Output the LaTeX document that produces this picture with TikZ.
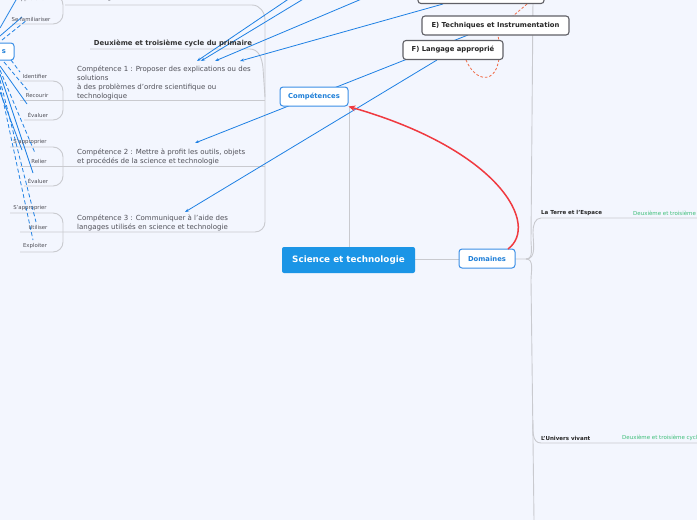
\documentclass[tikz,border=0pt]{standalone}
\usepackage{fontspec}
\setmainfont{DejaVu Sans}
\usetikzlibrary{arrows.meta}
\definecolor{bg}{HTML}{F3F6FE}
\definecolor{sciblue}{HTML}{1B95E6}
\definecolor{linkblue}{HTML}{1E80E4}
\definecolor{nodeblue}{HTML}{3A8EE6}
\definecolor{textblue}{HTML}{1E7FD8}
\definecolor{graylink}{HTML}{C9CACF}
\definecolor{boxgray}{HTML}{606066}
\definecolor{redarrow}{HTML}{F03A40}
\definecolor{dashred}{HTML}{F06A45}
\definecolor{greentxt}{HTML}{3DBE78}
\definecolor{txtgray}{HTML}{505058}
\tikzset{
  scibox/.style={rectangle, rounded corners=2pt, fill=sciblue, text=white, font=\fontsize{8.8}{10}\selectfont\bfseries, minimum width=133pt, minimum height=26pt, inner sep=0pt},
  topicbox/.style={rectangle, rounded corners=3pt, draw=nodeblue, line width=1pt, fill=white, text=textblue, font=\fontsize{6.8}{8}\selectfont\bfseries, minimum height=19pt, inner sep=0pt},
  darkbox/.style={rectangle, rounded corners=3pt, draw=boxgray, line width=1.1pt, fill=white, text=black!85, font=\fontsize{6.8}{8}\selectfont\bfseries, minimum height=19pt, inner sep=0pt},
  bodytext/.style={font=\fontsize{7}{9}\selectfont, text=txtgray, align=left, inner sep=0pt, anchor=north west},
  subitem/.style={font=\fontsize{5.4}{6}\selectfont, text=txtgray, inner sep=0pt},
  headtext/.style={font=\fontsize{6.9}{8}\selectfont\bfseries, text=black!80, inner sep=0pt},
  domitem/.style={font=\fontsize{5.5}{6}\selectfont\bfseries, text=black!85, inner sep=0pt, anchor=west},
  greenlab/.style={font=\fontsize{5.5}{6}\selectfont, text=greentxt, inner sep=0pt, anchor=west},
  glink/.style={draw=graylink, line width=0.9pt},
  blink/.style={draw=linkblue, line width=0.8pt},
  bdash/.style={blink, dash pattern=on 4pt off 2.5pt},
  barrow/.style={blink, -{Stealth[length=4pt,width=3pt]}},
}
\begin{document}
\begin{tikzpicture}[x=1pt,y=-1pt]
\useasboundingbox (0,0) rectangle (697,520);
\clip (0,0) rectangle (697,520);
\fill[bg] (0,0) rectangle (697,520);

% ---------- gray tree lines ----------
\draw[glink] (65,5) -- (252,5) to[out=0,in=90] (265,20) -- (265,222) to[out=-90,in=0] (255,232) -- (20,232);
\draw[glink] (90,49) -- (250,49) to[out=0,in=95] (263,68) -- (265,97);
\draw[glink] (20,100) -- (265,100);
\draw[glink] (20,166) -- (265,166);
% sub brackets
\draw[glink] (15,-5) -- (53,-5) to[out=0,in=90] (63,5) -- (63,14) to[out=-90,in=0] (53,24) -- (12,24);
\draw[glink] (20,81) -- (53,81) to[out=0,in=90] (63,91) -- (63,110) to[out=-90,in=0] (53,120) -- (24,120);
\draw[glink] (10,147) -- (53,147) to[out=0,in=90] (63,157) -- (63,176) to[out=-90,in=0] (53,186) -- (24,186);
\draw[glink] (10,213) -- (53,213) to[out=0,in=90] (63,223) -- (63,242) to[out=-90,in=0] (53,252) -- (20,252);
% center
\draw[glink] (349,106) -- (349,247);
\draw[glink] (415,259) -- (459,259);
% domaines tree
\draw[glink] (515,259) -- (526,259) to[out=0,in=-90] (531,240) -- (533,0);
\draw[glink] (526,259) to[out=0,in=90] (531,280) -- (534,520);
\draw[glink] (526,259) to[out=0,in=-90] (533,232) to[out=90,in=180] (541,218) -- (697,218);
\draw[glink] (533,420) to[out=-90,in=180] (541,443) -- (697,443);

% ---------- coordinates ----------
\coordinate (o1) at (290,-2);
\coordinate (o2) at (305,-2);
\coordinate (o3) at (364,-2);
\coordinate (dsrc) at (443,4);
\coordinate (esrc) at (468,35);
\coordinate (fsrc) at (437,60);
\coordinate (a1) at (197,61);
\coordinate (a2) at (201,61);
\coordinate (a3) at (215,61);
\coordinate (a4) at (240,61);
\coordinate (a5) at (195,143);
\coordinate (a6) at (185,212);

% ---------- blue relationship lines ----------
\draw[barrow] (o1) -- (a1);
\draw[barrow] (o2) -- (a2);
\draw[barrow] (o3) -- (a3);
\draw[barrow] (dsrc) -- (a4);
\draw[barrow] (esrc) -- (a5);
\draw[barrow] (fsrc) -- (a6);

% left fan
\coordinate (s1) at (11,60);
\coordinate (s2) at (4,62);
\coordinate (s3) at (0,66);
\coordinate (s4) at (0,70);
\coordinate (s5) at (0,74);
\coordinate (s6) at (0,80);
\coordinate (s7) at (0,86);
\coordinate (s8) at (0,92);
\coordinate (s9) at (0,36);
\coordinate (s10) at (2,40);
\coordinate (s11) at (0,28);
\draw[bdash] (s1) -- (20,72);
\draw[bdash] (s2) -- (29,92);
\draw[blink] (s3) -- (27,104);
\draw[bdash] (s4) -- (35,153);
\draw[blink] (s5) -- (33,173);
\draw[bdash] (s6) -- (36,222);
\draw[bdash] (s7) -- (33,240);
\draw[blink] (s8) -- (22,150);
\draw[blink] (s9) -- (22,17);
\draw[bdash] (s10) -- (27,20);
\draw[blink] (s11) -- (16,0);

% red dashed
\draw[dashred, line width=0.8pt, dash pattern=on 2.5pt off 2pt] (527,4) -- (513,16);
\draw[dashred, line width=0.8pt, dash pattern=on 2.5pt off 2pt] (466,60) .. controls (478,88) and (506,84) .. (498,35);

% ---------- nodes ----------
\node[darkbox, minimum width=126pt] (D) at (481,-6) {};
\node[darkbox, minimum width=147pt] (E) at (495.5,25.5) {E) Techniques et Instrumentation};
\node[darkbox, minimum width=100pt] (F) at (453,50) {F) Langage approprié};
\node[topicbox, minimum width=68pt] (comp) at (314,96.5) {Compétences};
\node[topicbox, minimum width=56pt] (dom) at (487,258.5) {Domaines};
\node[scibox] (sci) at (348.5,260) {Science et technologie};
\node[topicbox, minimum width=54pt, minimum height=17pt, text width=38pt, align=right] (left) at (-13,51.5) {s};

% texts
\node[bodytext] (t0) at (77,-6) {technologie};
\node[headtext] (head) at (173,43) {Deuxième et troisième cycle du primaire};
\node[bodytext] (c1) at (77,65.5) {Compétence 1 : Proposer des explications ou des\\solutions\\à des problèmes d'ordre scientifique ou\\technologique};
\node[bodytext] (c2) at (77,148.5) {Compétence 2 : Mettre à profit les outils, objets\\et procédés de la science et technologie};
\node[bodytext] (c3) at (77,214.5) {Compétence 3 : Communiquer à l'aide des\\langages utilisés en science et technologie};

\node[subitem] at (33,-1) {Approfondir};
\node[subitem] at (31,19) {Se familiariser};
\node[subitem] at (35,76) {Identifier};
\node[subitem] at (37,95) {Recourir};
\node[subitem] at (38,115) {Évaluer};
\node[subitem] at (30,142) {S'approprier};
\node[subitem] at (39,161) {Relier};
\node[subitem] at (38,181) {Évaluer};
\node[subitem] at (30,208) {S'approprier};
\node[subitem] at (38,227) {Utiliser};
\node[subitem] at (35,246) {Exploiter};

\node[domitem] (terre) at (541,213) {La Terre et l'Espace};
\node[greenlab] at (633,213) {Deuxième et troisième};
\node[domitem] (univ) at (541,438) {L'Univers vivant};
\node[greenlab] at (622,438) {Deuxième et troisième cycle};

% red arrow
\draw[redarrow, line width=1.5pt, -{Stealth[length=7pt,width=6pt]}] (508,249) .. controls (540,225) and (500,150) .. (comp.south east);
\end{tikzpicture}
\end{document}
